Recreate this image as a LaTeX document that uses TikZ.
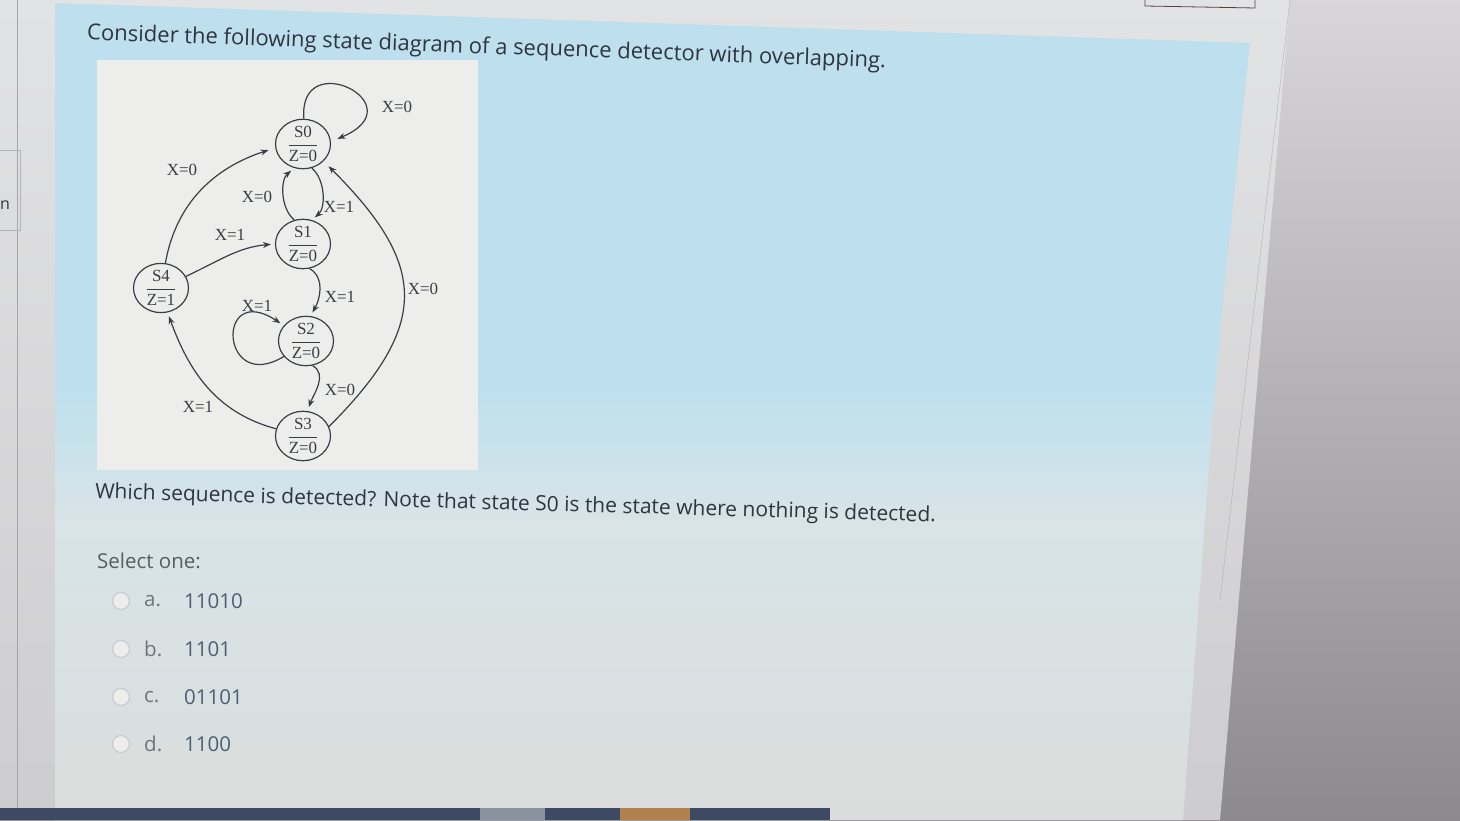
\documentclass[tikz,border=0pt]{standalone}
\usepackage{fontspec}
\setmainfont{Open Sans}
\newfontfamily\diagfont{Liberation Serif}
\usetikzlibrary{arrows.meta,shapes.geometric}

\definecolor{screengray}{RGB}{216,214,218}
\definecolor{screendark}{RGB}{140,138,142}
\definecolor{pagegray}{RGB}{226,227,228}
\definecolor{pagelow}{RGB}{205,204,206}
\definecolor{panelblue}{RGB}{190,224,238}
\definecolor{panelmist}{RGB}{216,228,231}
\definecolor{panellow}{RGB}{218,221,219}
\definecolor{boxwhite}{RGB}{237,238,236}
\definecolor{linegray}{RGB}{58,61,69}
\definecolor{textdark}{RGB}{47,53,64}
\definecolor{optgray}{RGB}{110,116,124}
\definecolor{optblue}{RGB}{74,94,118}
\definecolor{radiogray}{RGB}{200,204,207}
\definecolor{barslate}{RGB}{60,74,100}

\newcommand{\statelbl}[2]{$\displaystyle\frac{\mbox{#1}}{\mbox{#2}}$}

\begin{document}
\begin{tikzpicture}[x=1pt,y=1pt,
  state/.style={draw=linegray, ellipse, line width=1.2pt, minimum width=55, minimum height=48,
    inner sep=0pt, text=linegray, font=\diagfont\fontsize{17}{17}\selectfont},
  trans/.style={draw=linegray, line width=1.2pt, -{Stealth[length=8pt,width=6pt]}, shorten >=4pt},
  xlbl/.style={text=linegray, inner sep=1pt, font=\diagfont\fontsize{17}{17}\selectfont},
  qtext/.style={anchor=west, inner sep=0pt, text=textdark, font=\fontsize{22}{26}\selectfont},
  radio/.style={circle, draw=radiogray, fill=boxwhite, line width=1.2pt, minimum size=17, inner sep=0pt},
  optlbl/.style={anchor=west, inner sep=0pt, text=optgray, font=\fontsize{20.5}{24}\selectfont},
  optval/.style={anchor=west, inner sep=0pt, text=optblue, font=\fontsize{20.5}{24}\selectfont}]
\useasboundingbox (0,0) rectangle (1460,820);

% screen and page
\shade[top color=screengray, bottom color=screendark] (0,0) rectangle (1460,820);
\shade[top color=pagegray, bottom color=pagelow] (0,0) -- (1220,0) -- (1290,820) -- (0,820) -- cycle;
\draw[gray!60] (1290,820) -- (1220,220);
\draw[gray!70] (17,0) -- (17,820);
\draw[gray!80!red!60!black, line width=0.8pt] (1145,825) -- (1145,814) -- (1255,812) -- (1255,825);
\draw[gray!60] (-1,670) rectangle (20,590);
\node[anchor=west, inner sep=0pt, text=textdark, font=\fontsize{16}{16}\selectfont] (cut) at (0,615) {n};

% question panel
\fill[panelblue] (55,817) -- (1250,777) -- (1223,520) -- (1215,430) -- (55,430) -- cycle;
\shade[top color=panelblue, bottom color=panelmist] (55,431) -- (1215,431) -- (1205,300) -- (55,300) -- cycle;
\shade[top color=panelmist, bottom color=panellow] (55,301) -- (1205,301) -- (1183,0) -- (55,0) -- cycle;

% taskbar
\fill[barslate] (0,0) rectangle (830,12);
\fill[barslate!60!white] (480,0) rectangle (545,12);
\fill[orange!40!gray] (620,0) rectangle (690,12);

% diagram box
\fill[boxwhite] (97,760) rectangle (478,350);

% states
\node[state] (s0) at (303,676) {\statelbl{S0}{Z=0}};
\node[state] (s1) at (303,576) {\statelbl{S1}{Z=0}};
\node[state] (s2) at (306,479) {\statelbl{S2}{Z=0}};
\node[state] (s3) at (303,384) {\statelbl{S3}{Z=0}};
\node[state] (s4) at (161,532) {\statelbl{S4}{Z=1}};

% transitions
\draw[trans, shorten >=7pt] (s0.88) .. controls (298,775) and (418,715) .. (s0.5);
\draw[trans, shorten >=7pt] (s4.80) to[out=80,in=198] (s0.188);
\draw[trans] (s0.290) to[out=-40,in=40,looseness=0.9] (s1.70);
\draw[trans] (s1.110) to[out=140,in=-140,looseness=0.9] (s0.250);
\draw[trans] (s4.25) to[out=25,in=185] (s1.180);
\draw[trans] (s1.285) to[out=-30,in=60] (s2.80);
\draw[trans] (s2.215) .. controls (220,425) and (215,540) .. (s2.145);
\draw[trans] (s2.285) to[out=-30,in=70] (s3.80);
\draw[trans] (s3.165) to[out=165,in=-70] (s4.285);
\draw[trans, shorten >=7pt] (s3.20) to[out=45,in=-45,looseness=1.4] (s0.320);

% transition labels
\node[xlbl] (l00) at (397,713) {X=0};
\node[xlbl] (l40) at (182,650) {X=0};
\node[xlbl] (l10) at (257,623) {X=0};
\node[xlbl] (l01) at (339,613) {X=1};
\node[xlbl] (l41) at (230,585) {X=1};
\node[xlbl] (l30) at (423,531) {X=0};
\node[xlbl] (l12) at (340,523) {X=1};
\node[xlbl] (l22) at (257,514) {X=1};
\node[xlbl] (l23) at (340,430) {X=0};
\node[xlbl] (l34) at (198,413) {X=1};

% question text
\node[qtext, rotate=-2] (title) at (87,786) {Consider the following state diagram of a sequence detector with overlapping.};
\node[qtext, rotate=-1.6, font=\fontsize{21}{25}\selectfont] (ask) at (95,327) {Which sequence is detected? Note that state S0 is the state where nothing is detected.};
\node[optlbl, text=optgray!80!black] (sel) at (97,259) {Select one:};

% options
\node[radio] (ra) at (121,219) {};
\node[radio] (rb) at (121,171) {};
\node[radio] (rc) at (121,123) {};
\node[radio] (rd) at (121,76) {};
\node[optlbl] (la) at (144,219) {a.};
\node[optlbl] (lb) at (144,171) {b.};
\node[optlbl] (lc) at (144,123) {c.};
\node[optlbl] (ld) at (144,76) {d.};
\node[optval] (va) at (184,219) {11010};
\node[optval] (vb) at (184,171) {1101};
\node[optval] (vc) at (184,123) {01101};
\node[optval] (vd) at (184,76) {1100};
\end{tikzpicture}
\end{document}
